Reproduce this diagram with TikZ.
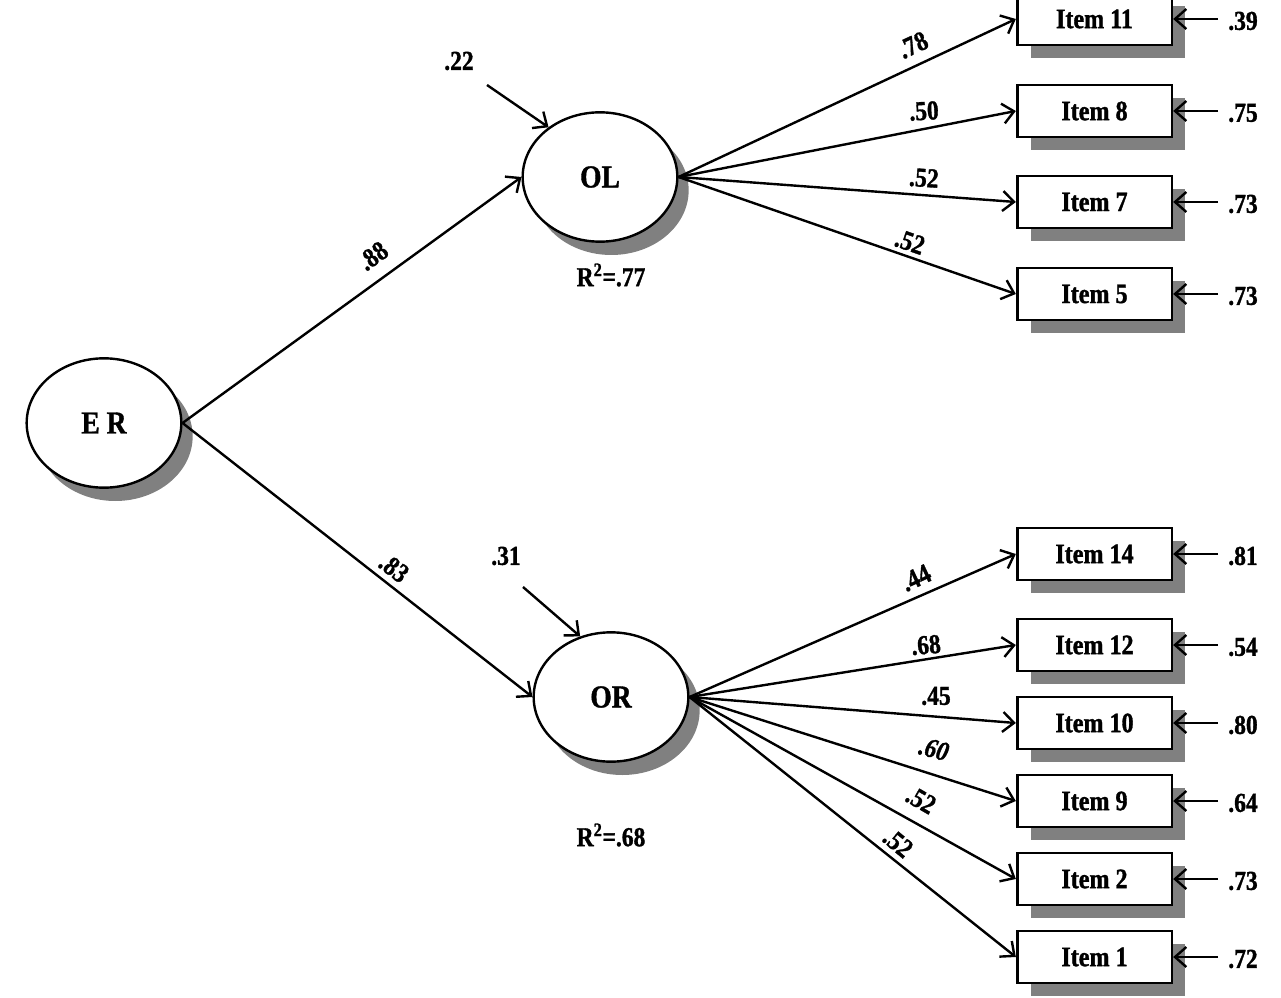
\documentclass[tikz,border=0pt]{standalone}
\usepackage{fontspec}
\setmainfont{Liberation Serif}
\newfontfamily\condserif[FakeStretch=0.86,FakeBold=1.2]{Liberation Serif}
\usetikzlibrary{arrows.meta,shapes.geometric,shadows}
\begin{document}
\begin{tikzpicture}[x=0.75pt,y=-0.75pt,
  lat/.style={ellipse, draw, line width=1.8pt, fill=white, minimum width=116pt, minimum height=97pt, inner sep=0pt,
    font=\condserif\bfseries\fontsize{24}{26}\selectfont,
    drop shadow={shadow xshift=8.5pt, shadow yshift=-10pt, fill=black!50, opacity=1}},
  obs/.style={rectangle, draw, line width=2pt, fill=white, minimum width=116pt, minimum height=39pt, inner sep=0pt,
    font=\condserif\bfseries\fontsize{21}{22}\selectfont,
    drop shadow={shadow xshift=10pt, shadow yshift=-10pt, fill=black!50, opacity=1}},
  arr/.style={-{Straight Barb[length=8.5pt,width=15pt,line width=1.8pt]}, line width=1.8pt},
  lbl/.style={font=\condserif\bfseries\fontsize{20.5}{22}\selectfont, inner sep=0pt}]
\useasboundingbox (0,0) rectangle (1281,998);

% latent variables
\node[lat] (ER) at (104,423) {E R};
\node[lat] (OL) at (600,177) {OL};
\node[lat] (OR) at (611,697) {OR};

% items
\foreach \n/\t/\y in {i11/Item 11/19, i8/Item 8/111, i7/Item 7/202, i5/Item 5/294,
  i14/Item 14/554, i12/Item 12/645, i10/Item 10/723, i9/Item 9/801, i2/Item 2/879, i1/Item 1/957}
  \node[obs] (\n) at (1094.5,\y) {\t};

% structural paths
\draw[arr] (ER.east) -- (OL.west);
\draw[arr] (ER.east) -- (OR.west);
\node[lbl, rotate=36] (l88) at (373,256) {.88};
\node[lbl, rotate=-38] (l83) at (394,568) {.83};

% disturbances
\coordinate (d1) at (487,85);
\coordinate (d2) at (523,587);
\draw[arr] (d1) -- (OL.136);
\draw[arr] (d2) -- (OR.117);
\node[lbl] (z1) at (459,61) {.22};
\node[lbl] (z2) at (506,556) {.31};
\node[lbl] (r1) at (611,275) {R\textsuperscript{2}=.77};
\node[lbl] (r2) at (611,835) {R\textsuperscript{2}=.68};

% OL loadings
\foreach \n in {i11,i8,i7,i5} \draw[arr] (OL.east) -- (\n.west);
\node[lbl, rotate=25] (a1) at (913,45) {.78};
\node[lbl, rotate=3] (a2) at (924,111) {.50};
\node[lbl, rotate=-4] (a3) at (924,178) {.52};
\node[lbl, rotate=-19] (a4) at (910,242) {.52};

% OR loadings
\foreach \n in {i14,i12,i10,i9,i2,i1} \draw[arr] (OR.east) -- (\n.west);
\node[lbl, rotate=25] (b1) at (916,578) {.44};
\node[lbl, rotate=5] (b2) at (926,645) {.68};
\node[lbl] (b3) at (936,696) {.45};
\node[lbl, rotate=-15, font=\condserif\bfseries\itshape\fontsize{20.5}{22}\selectfont] (b4) at (934,749) {.60};
\node[lbl, rotate=-30] (b5) at (921,800) {.52};
\node[lbl, rotate=-40] (b6) at (898,843) {.52};

% error terms
\foreach \n/\v/\y in {i11/.39/19, i8/.75/111, i7/.73/202, i5/.73/294,
  i14/.81/554, i12/.54/645, i10/.80/723, i9/.64/801, i2/.73/879, i1/.72/957} {
  \coordinate (e\n) at (1218,\y);
  \draw[arr] (e\n) -- (\n.east);
  \node[lbl] (v\n) at (1243,\y+2) {\v};
}
\end{tikzpicture}
\end{document}
